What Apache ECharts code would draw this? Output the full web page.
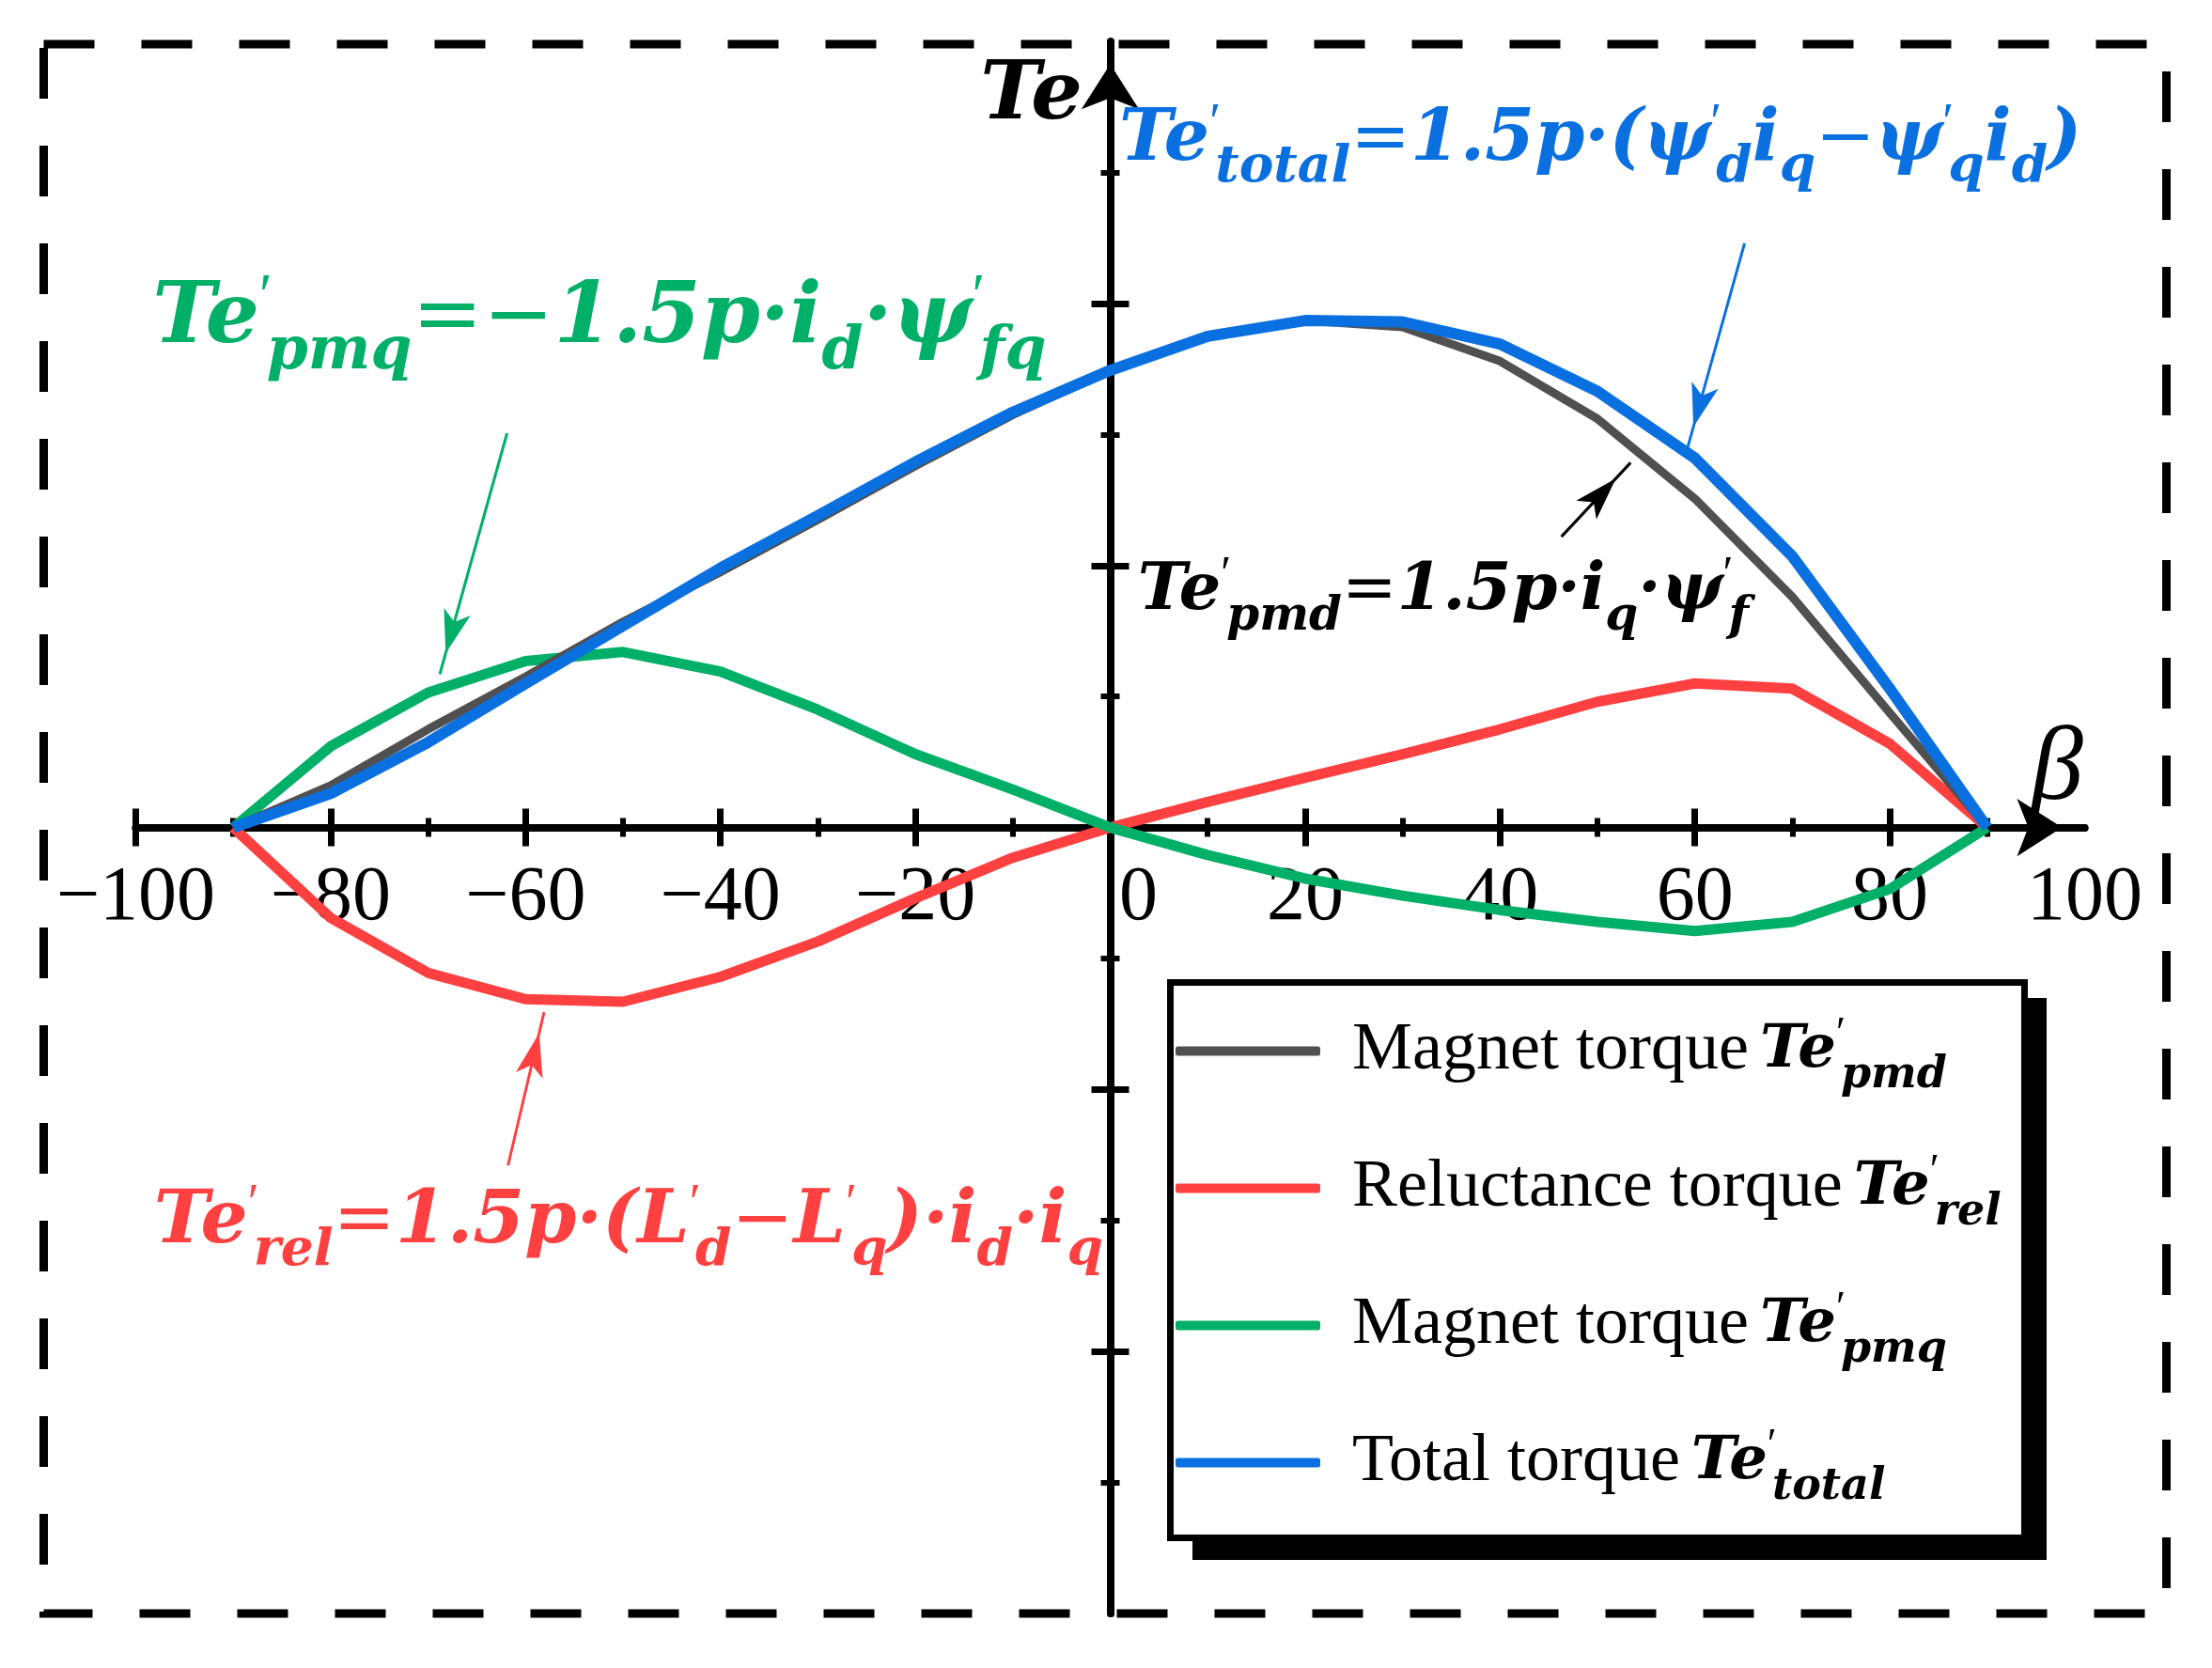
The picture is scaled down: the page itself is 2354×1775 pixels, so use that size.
<!DOCTYPE html>
<html><head><meta charset="utf-8">
<script src="https://cdn.jsdelivr.net/npm/echarts@6/dist/echarts.min.js"></script>
<style>html,body{margin:0;padding:0;background:#fff}#c{width:2354px;height:1775px}</style>
</head><body><div id="c"></div>
<script>
// ---------- data ----------
const beta    = [-90,-80,-70,-60,-50,-40,-30,-20,-10,0,10,20,30,40,50,60,70,80,90];
const tePmd   = [0,0.32,0.75,1.15,1.57,1.95,2.35,2.76,3.15,3.49,3.75,3.87,3.82,3.56,3.12,2.51,1.76,0.875,0];
const teRel   = [0,-0.69,-1.11,-1.31,-1.33,-1.14,-0.87,-0.54,-0.23,0,0.195,0.38,0.56,0.75,0.96,1.10,1.06,0.64,0];
const tePmq   = [0,0.62,1.03,1.27,1.34,1.19,0.90,0.56,0.29,0,-0.21,-0.39,-0.52,-0.63,-0.72,-0.79,-0.72,-0.47,0];
const teTotal = [0,0.26,0.65,1.10,1.54,1.98,2.38,2.79,3.17,3.49,3.75,3.87,3.86,3.69,3.33,2.82,2.07,1.06,0];
const xMajorTicks = [-100,-80,-60,-40,-20,0,20,40,60,80];
const yMajorTicks = [-4,-2,2,4];
const seriesNames = ['Magnet torque Te′pmd','Reluctance torque Te′rel','Magnet torque Te′pmq','Total torque Te′total'];
const legendWords = ['Magnet torque','Reluctance torque','Magnet torque','Total torque'];
const legendSubs  = ['pmd','rel','pmq','total'];
const colors = ['#505050','#FF4040','#00AF68','#0A70E0'];
// annotation arrows (data coords: tail -> head)
const arrowPmq   = [[-61.9, 3.01], [-68.8, 1.17]];
const arrowTotal = [[65.1, 4.46], [59.25, 2.90]];
const arrowPmd   = [[46.3, 2.22], [53.4, 2.785]];
const arrowRel   = [[-61.8, -2.58], [-58.1, -1.41]];

const SERIF = 'Liberation Serif';
const MATH = 'DejaVu Serif';
const chart = echarts.init(document.getElementById('c'), null, {width:2354, height:1775});

function arrowLine(pts, color) {
  return {
    silent: true, animation: false,
    symbol: ['none','arrow'],
    label: {show:false},
    emphasis: {disabled:true},
    lineStyle: {color: color, width: 3, type: 'solid'},
    itemStyle: {color: color},
    data: [[{coord: pts[0], symbol:'none'},
            {coord: pts[1], symbol:'arrow', symbolSize:[22,46], symbolOffset:[0,23]}]]
  };
}
function mkSeries(i, vals, width, z, ml) {
  return {
    name: seriesNames[i], type: 'line', xAxisIndex: 0, yAxisIndex: 0,
    data: beta.map((b, k) => [b, vals[k]]),
    showSymbol: false, symbol: 'none', z: z,
    lineStyle: {color: colors[i], width: width, join: 'round'},
    itemStyle: {color: colors[i]},
    markLine: ml
  };
}
function legendRich() {
  const LH = 100, S = 46, d = 27, u = 17;
  return {
    a: {fontFamily: SERIF, fontSize: 72, color: '#000', lineHeight: LH, padding: [0,12,0,29]},
    t: {fontFamily: MATH, fontSize: 64, fontStyle: 'italic', fontWeight: 'bold', color: '#000', lineHeight: LH},
    p: {fontFamily: SERIF, fontSize: S, color: '#000', lineHeight: LH, padding: [0,-5,2*u,0]},
    s: {fontFamily: MATH, fontSize: S, fontStyle: 'italic', fontWeight: 'bold', color: '#000', lineHeight: LH, padding: [2*d,0,0,0]}
  };
}

const xAxisCommon = {type:'value', min:-100, max:100, interval:20, splitLine:{show:false}};
const yAxisCommon = {type:'value', min:-6, max:6, interval:2, splitLine:{show:false}, axisLabel:{show:false}};
const tickStyle = {color:'#000', width:7};
const minorStyle = {color:'#000', width:6};

const option = {
  animation: false,
  backgroundColor: '#fff',
  grid: [
    {left: 144.5, right: 135.5, top: 44.2, bottom: 58, outerBoundsMode: 'none', containLabel: false},
    {left: 144.5, right: 135.5, top: 44.2, bottom: 894.4, outerBoundsMode: 'none', containLabel: false}
  ],
  xAxis: [
    Object.assign({}, xAxisCommon, {
      gridIndex: 0, position: 'bottom',
      axisLine: {show:true, onZero:true, onZeroAxisIndex:0, symbol:['none','arrow'], symbolSize:[46,48], symbolOffset:[0,-24],
                 lineStyle:{color:'#000', width:8}},
      axisTick: {show:true, customValues: xMajorTicks, length:20, lineStyle:tickStyle},
      minorTick: {show:true, splitNumber:2, length:10, lineStyle:minorStyle},
      axisLabel: {show:false}
    }),
    Object.assign({}, xAxisCommon, {
      gridIndex: 0, position: 'top',
      axisLine: {show:true, onZero:true, onZeroAxisIndex:0, lineStyle:{color:'#000', width:8}},
      axisTick: {show:true, customValues: xMajorTicks, length:20, lineStyle:tickStyle},
      minorTick: {show:true, splitNumber:2, length:10, lineStyle:minorStyle},
      axisLabel: {show:false}
    }),
    // tick labels of the beta axis, drawn along the zero line (bottom edge of grid 1)
    Object.assign({}, xAxisCommon, {
      gridIndex: 1, position: 'bottom',
      axisLine: {show:false, onZero:false},
      axisTick: {show:false},
      axisLabel: {show:true, showMinLabel:true, showMaxLabel:true, margin:35, color:'#000',
                  fontFamily:SERIF, fontSize:82, hideOverlap:false,
                  formatter: v => v === 0 ? '{z|0}' : (v < 0 ? '\u2212' + Math.abs(v) : String(v)),
                  rich: {z: {fontFamily:SERIF, fontSize:82, color:'#000', padding:[0,0,0,60]}}}
    })
  ],
  yAxis: [
    Object.assign({}, yAxisCommon, {
      gridIndex: 0, position: 'left',
      axisLine: {show:true, onZero:true, onZeroAxisIndex:0, symbol:['none','arrow'], symbolSize:[46,48], symbolOffset:[0,-24],
                 lineStyle:{color:'#000', width:8}},
      axisTick: {show:true, customValues: yMajorTicks, length:20, lineStyle:tickStyle},
      minorTick: {show:true, splitNumber:2, length:10, lineStyle:minorStyle}
    }),
    Object.assign({}, yAxisCommon, {
      gridIndex: 0, position: 'right',
      axisLine: {show:true, onZero:true, onZeroAxisIndex:0, lineStyle:{color:'#000', width:8}},
      axisTick: {show:true, customValues: yMajorTicks, length:20, lineStyle:tickStyle},
      minorTick: {show:true, splitNumber:2, length:10, lineStyle:minorStyle}
    }),
    {type:'value', gridIndex:1, min:0, max:6, show:false}
  ],
  legend: {
    show: true, orient: 'vertical', left: 1251, top: 1068.5, padding: 0, z: 10,
    itemWidth: 154, itemHeight: 10, itemGap: 46, icon: 'roundRect', selectedMode: false,
    data: seriesNames,
    formatter: name => {
      const i = seriesNames.indexOf(name);
      return '{a|' + legendWords[i] + '}{t|Te}{p|′}{s|' + legendSubs[i] + '}';
    },
    textStyle: {fontFamily: SERIF, fontSize: 72, color: '#000', rich: legendRich()}
  },
  series: [
    mkSeries(1, teRel, 11, 2, arrowLine(arrowRel, colors[1])),
    mkSeries(2, tePmq, 11, 3, arrowLine(arrowPmq, colors[2])),
    mkSeries(0, tePmd, 9, 4, arrowLine(arrowPmd, '#000')),
    mkSeries(3, teTotal, 12, 5, arrowLine(arrowTotal, colors[3]))
  ]
};
chart.setOption(option);

// ---------- text annotations anchored in data coordinates ----------
function mathRich(M, S, color) {
  const d = Math.round(0.28*M + 0.346*(M - S));
  const u = Math.round(0.33*M - 0.12*S);
  const LH = Math.max(Math.round(M * 1.3), S + 2*d);
  const base = {fontFamily: MATH, fontWeight: 'bold', fill: color, color: color, lineHeight: LH};
  return {
    m: Object.assign({}, base, {fontSize: M, fontStyle: 'italic'}),
    n: Object.assign({}, base, {fontSize: M, fontStyle: 'normal', fontWeight: 'normal'}),
    s: Object.assign({}, base, {fontSize: S, fontStyle: 'italic', padding: [2*d,0,0,0]}),
    p: Object.assign({}, base, {fontFamily: SERIF, fontSize: S, fontStyle: 'normal', fontWeight: 'normal', padding: [0,-Math.round(0.1*S),2*u,0]})
  };
}
const annotations = [
  {at:[0.92, 5.24], M:76, S:55, color:colors[3],
   text:'{m|Te}{p|′}{s|total}{n|=}{m|1.5p·(ψ}{p|′}{s|d}{m|i}{s|q}{n|−}{m|ψ}{p|′}{s|q}{m|i}{s|d}{m|)}'},
  {at:[-98.3, 3.874], M:90, S:63, color:colors[2],
   text:'{m|Te}{p|′}{s|pmq}{n|=−}{m|1.5p·i}{s|d}{m|·ψ}{p|′}{s|fq}'},
  {at:[2.81, 1.80], M:70, S:50, color:'#000',
   text:'{m|Te}{p|′}{s|pmd}{n|=}{m|1.5p·i}{s|q}{m|·ψ}{p|′}{s|f}'},
  {at:[-98.15, -3.02], M:79, S:55, color:colors[1],
   text:'{m|Te}{p|′}{s|rel}{n|=}{m|1.5p·(L}{p|′}{s|d}{n|−}{m|L}{p|′}{s|q}{m|)·i}{s|d}{m|·i}{s|q}'}
];
const graphics = [
  {type:'rect', z:0, silent:true, shape:{x:46.5, y:47, width:2259, height:1670},
   style:{fill:'none', stroke:'#000', lineWidth:9, lineDash:[54,50]}},
  {type:'rect', z:5, silent:true, shape:{x:1269, y:1062, width:909, height:598}, style:{fill:'#000'}},
  {type:'rect', z:6, silent:true, shape:{x:1245.5, y:1045.5, width:909, height:591},
   style:{fill:'#fff', stroke:'#000', lineWidth:7}}
];
annotations.forEach(a => {
  const p = chart.convertToPixel({gridIndex:0}, a.at);
  graphics.push({type:'text', z:8, silent:true, x:p[0], y:p[1],
    style:{text:a.text, rich:mathRich(a.M, a.S, a.color), align:'left', verticalAlign:'middle',
           fill:a.color, fontFamily:MATH, fontSize:a.M}});
});
const pTe = chart.convertToPixel({gridIndex:0}, [-2.84, 5.57]);
graphics.push({type:'text', z:8, silent:true, x:pTe[0], y:pTe[1],
  style:{text:'Te', align:'right', verticalAlign:'middle', fill:'#000', fontFamily:MATH, fontSize:86, fontStyle:'italic', fontWeight:'bold'}});
const pB = chart.convertToPixel({gridIndex:0}, [94.45, 0.43]);
graphics.push({type:'text', z:8, silent:true, x:pB[0], y:pB[1],
  style:{text:'β', align:'left', verticalAlign:'middle', fill:'#000', fontFamily:SERIF, fontSize:112, fontStyle:'italic'}});
chart.setOption({graphic: graphics});
</script>
</body></html>
